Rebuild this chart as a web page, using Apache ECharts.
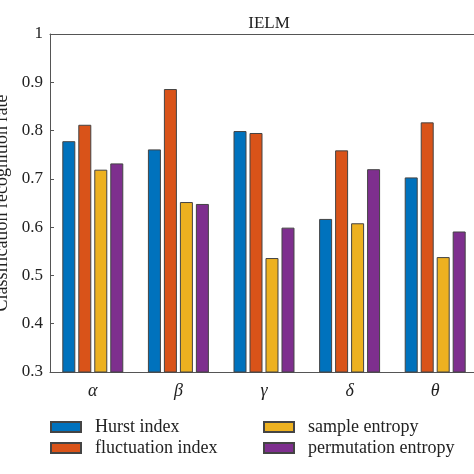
<!DOCTYPE html>
<html>
<head>
<meta charset="utf-8">
<style>
  html, body { margin: 0; padding: 0; background: #fff; }
  #chart { width: 474px; height: 474px; }
</style>
</head>
<body>
<div id="chart"></div>
<script src="https://cdn.jsdelivr.net/npm/echarts@6/dist/echarts.min.js"></script>
<script>
// data
var categories = ['α', 'β', 'γ', 'δ', 'θ'];
var hurst = [0.778, 0.761, 0.799, 0.617, 0.703];
var fluctuation = [0.812, 0.886, 0.795, 0.759, 0.817];
var sampleEntropy = [0.719, 0.652, 0.536, 0.608, 0.538];
var permutationEntropy = [0.732, 0.648, 0.599, 0.720, 0.591];
var seriesNames = ['Hurst index', 'fluctuation index', 'sample entropy', 'permutation entropy'];
var colors = ['#0072BD', '#D95319', '#EDB120', '#7E2F8E'];

var font = 'Liberation Serif';
var axisColor = '#555';
var textColor = '#222';

var chart = echarts.init(document.getElementById('chart'));

function makeBar(name, data, color) {
    return {
        name: name,
        type: 'bar',
        data: data,
        barWidth: 13,
        barGap: '23%',
        itemStyle: { color: color, borderColor: '#444', borderWidth: 1 },
        emphasis: { disabled: true }
    };
}

function makeLegend(names, left) {
    return {
        data: names,
        orient: 'vertical',
        left: left,
        top: 413,
        icon: 'rect',
        itemWidth: 30,
        itemHeight: 10,
        itemGap: 3,
        textStyle: { fontFamily: font, fontSize: 18, color: textColor, padding: [0, 0, 0, 9] }
    };
}

var option = {
    animation: false,
    title: {
        text: 'IELM',
        left: 264,
        top: 10,
        textAlign: 'center',
        textStyle: { fontFamily: font, fontSize: 17, fontWeight: 'normal', color: textColor }
    },
    legend: [
        makeLegend(seriesNames.slice(0, 2), 45),
        makeLegend(seriesNames.slice(2, 4), 258)
    ],
    grid: { left: 50, top: 34, width: 428, height: 338, containLabel: false, outerBoundsMode: 'none' },
    xAxis: [
        {
            type: 'category',
            data: categories,
            axisLine: { lineStyle: { color: axisColor } },
            axisTick: { inside: true, alignWithLabel: true, length: 4, lineStyle: { color: axisColor } },
            axisLabel: { fontFamily: font, fontSize: 18, fontStyle: 'italic', color: textColor, margin: 10 }
        },
        {
            type: 'category',
            data: categories,
            position: 'top',
            axisLine: { lineStyle: { color: axisColor } },
            axisTick: { inside: true, alignWithLabel: true, length: 4, lineStyle: { color: axisColor } },
            axisLabel: { show: false }
        }
    ],
    yAxis: [
        {
            type: 'value',
            min: 0.3,
            max: 1,
            interval: 0.1,
            name: 'Classification recognition rate',
            nameLocation: 'middle',
            nameGap: 38,
            nameTextStyle: { fontFamily: font, fontSize: 18, color: textColor },
            axisLine: { show: true, lineStyle: { color: axisColor } },
            axisTick: { show: true, inside: true, length: 4, lineStyle: { color: axisColor } },
            splitLine: { show: false },
            axisLabel: {
                fontFamily: font, fontSize: 17, color: textColor, margin: 7,
                formatter: function (v) { return String(Math.round(v * 10) / 10); }
            }
        },
        {
            type: 'value',
            min: 0.3,
            max: 1,
            interval: 0.1,
            position: 'right',
            axisLine: { show: true, lineStyle: { color: axisColor } },
            axisTick: { show: true, inside: true, length: 4, lineStyle: { color: axisColor } },
            splitLine: { show: false },
            axisLabel: { show: false }
        }
    ],
    series: [
        makeBar(seriesNames[0], hurst, colors[0]),
        makeBar(seriesNames[1], fluctuation, colors[1]),
        makeBar(seriesNames[2], sampleEntropy, colors[2]),
        makeBar(seriesNames[3], permutationEntropy, colors[3])
    ]
};

chart.setOption(option);
</script>
</body>
</html>
